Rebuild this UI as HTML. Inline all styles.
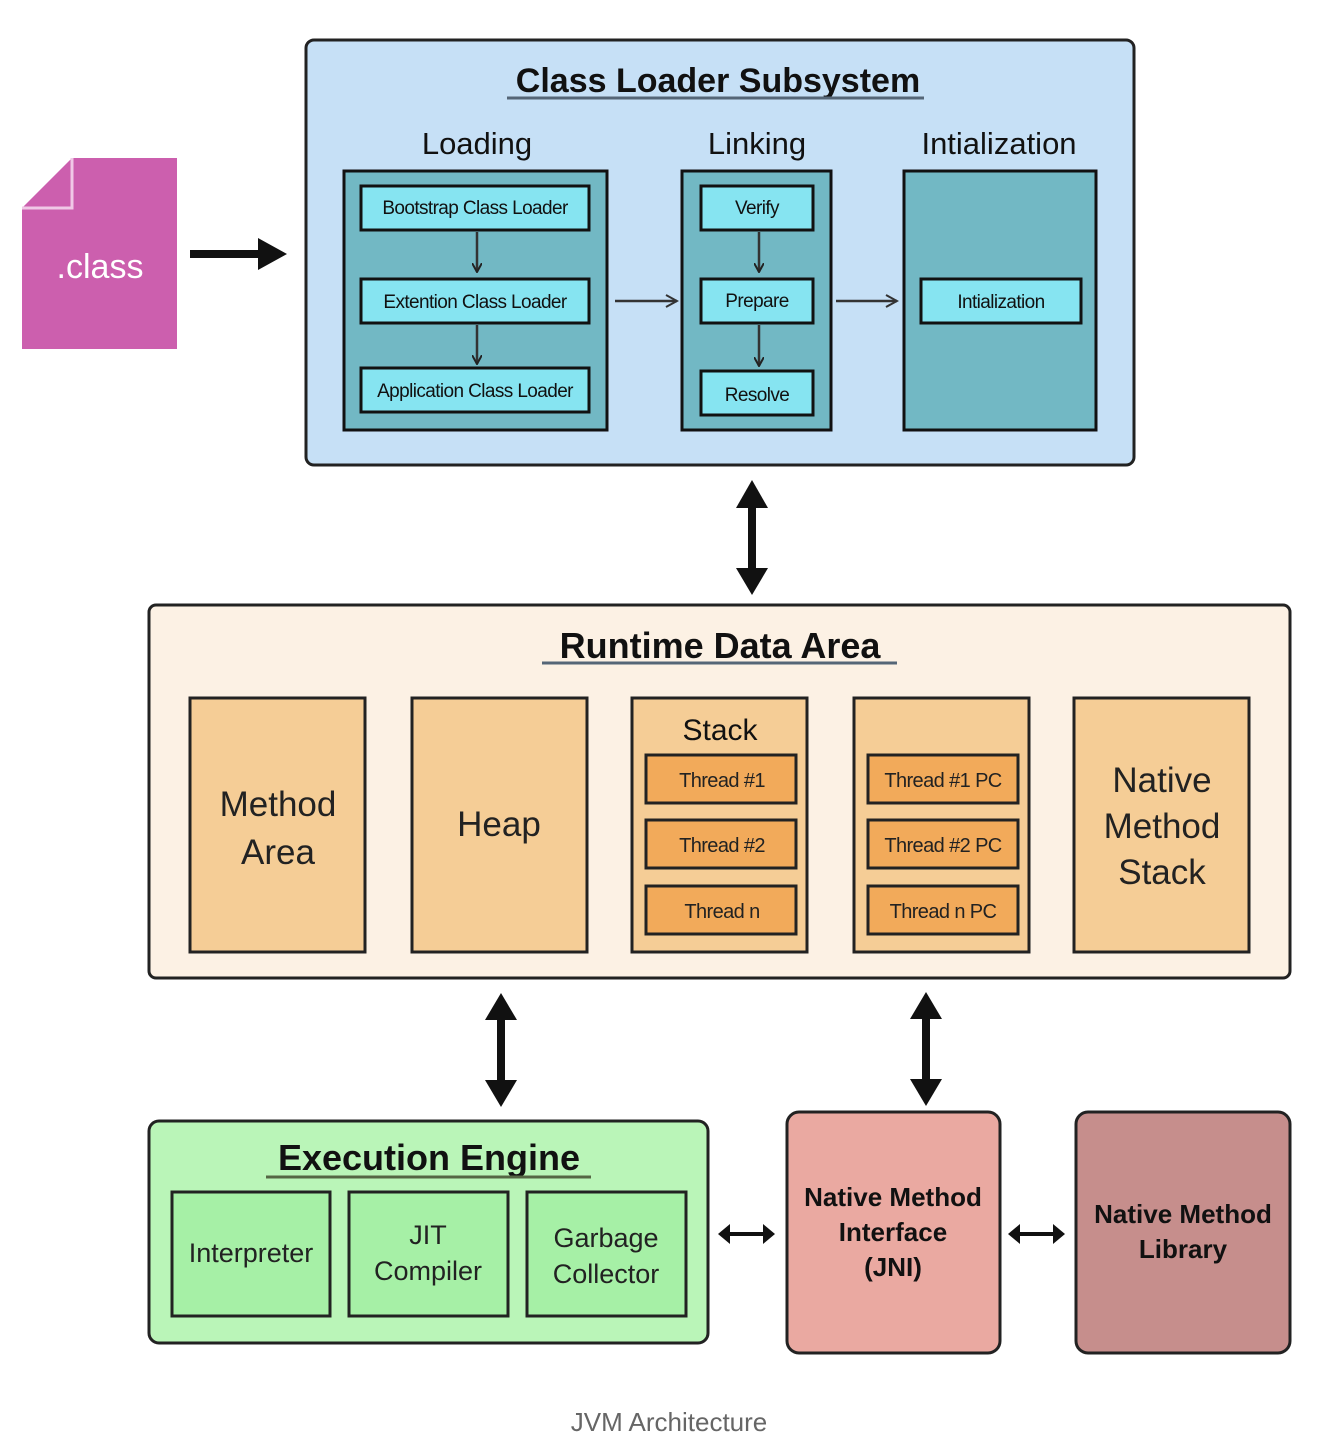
<!DOCTYPE html>
<html><head><style>body{margin:0;background:#fff}svg{display:block}</style></head>
<body>
<svg width="1338" height="1456" viewBox="0 0 1338 1456" xmlns="http://www.w3.org/2000/svg" font-family="Liberation Sans, sans-serif">
<defs>
<marker id="ah" markerWidth="10" markerHeight="10" refX="9" refY="5" orient="auto" markerUnits="userSpaceOnUse"><path d="M0,0 L9,5 L0,10" fill="none" stroke="#222" stroke-width="2"/></marker>
<marker id="sm" markerWidth="14" markerHeight="14" refX="12" refY="7" orient="auto" markerUnits="userSpaceOnUse"><path d="M1,1 L12,7 L1,13" fill="none" stroke="#333" stroke-width="2"/></marker>
</defs>
<!-- class file -->
<path d="M72,158 L177,158 L177,349 L22,349 L22,208 Z" fill="#cc5fae"/>
<path d="M22,208 L72,208 L72,158" fill="none" stroke="#f0c8e6" stroke-width="3"/>
<text x="100" y="278" font-size="34" fill="#fff" text-anchor="middle">.class</text>
<line x1="190" y1="254" x2="262" y2="254" stroke="#111" stroke-width="8"/>
<polygon points="258,238 287,254 258,270" fill="#111"/>

<!-- Class loader -->
<rect x="306" y="40" width="828" height="425" rx="8" fill="#c6e0f6" stroke="#222" stroke-width="3"/>
<text x="718" y="92" font-size="34" font-weight="bold" text-anchor="middle" fill="#111">Class Loader Subsystem</text>
<line x1="507" y1="98" x2="924" y2="98" stroke="#556677" stroke-width="3"/>
<text x="477" y="154" font-size="31" text-anchor="middle" fill="#111">Loading</text>
<text x="757" y="154" font-size="31" text-anchor="middle" fill="#111">Linking</text>
<text x="999" y="154" font-size="31" text-anchor="middle" fill="#111">Intialization</text>
<g stroke="#111" stroke-width="3">
<rect x="344" y="171" width="263" height="259" fill="#72b8c4"/>
<rect x="682" y="171" width="149" height="259" fill="#72b8c4"/>
<rect x="904" y="171" width="192" height="259" fill="#72b8c4"/>
<rect x="361" y="186" width="228" height="44" fill="#86e4f1"/>
<rect x="361" y="279" width="228" height="44" fill="#86e4f1"/>
<rect x="361" y="368" width="228" height="44" fill="#86e4f1"/>
<rect x="701" y="186" width="112" height="44" fill="#86e4f1"/>
<rect x="701" y="279" width="112" height="44" fill="#86e4f1"/>
<rect x="701" y="371" width="112" height="44" fill="#86e4f1"/>
<rect x="921" y="279" width="160" height="44" fill="#86e4f1"/>
</g>
<g font-size="19" text-anchor="middle" fill="#111" letter-spacing="-0.6">
<text x="475" y="214">Bootstrap Class Loader</text>
<text x="475" y="308">Extention Class Loader</text>
<text x="475" y="397">Application Class Loader</text>
<text x="757" y="214">Verify</text>
<text x="757" y="307">Prepare</text>
<text x="757" y="401">Resolve</text>
<text x="1001" y="308">Intialization</text>
</g>
<g stroke="#333" stroke-width="2.5">
<line x1="477" y1="232" x2="477" y2="272" marker-end="url(#ah)"/>
<line x1="477" y1="325" x2="477" y2="364" marker-end="url(#ah)"/>
<line x1="759" y1="232" x2="759" y2="272" marker-end="url(#ah)"/>
<line x1="759" y1="325" x2="759" y2="366" marker-end="url(#ah)"/>
<line x1="615" y1="301" x2="677" y2="301" marker-end="url(#sm)"/>
<line x1="836" y1="301" x2="897" y2="301" marker-end="url(#sm)"/>
</g>

<!-- double arrows -->
<g fill="#111">
<rect x="748" y="502" width="8" height="72"/><polygon points="736,508 752,480 768,508"/><polygon points="736,568 752,595 768,568"/>
<rect x="497" y="1015" width="8" height="70"/><polygon points="485,1020 501,993 517,1020"/><polygon points="485,1080 501,1107 517,1080"/>
<rect x="922" y="1014" width="8" height="70"/><polygon points="910,1019 926,992 942,1019"/><polygon points="910,1079 926,1106 942,1079"/>
<rect x="728" y="1232" width="36" height="4"/><polygon points="730,1224 718,1234 730,1244"/><polygon points="763,1224 775,1234 763,1244"/>
<rect x="1018" y="1232" width="36" height="4"/><polygon points="1020,1224 1008,1234 1020,1244"/><polygon points="1053,1224 1065,1234 1053,1244"/>
</g>

<!-- Runtime -->
<rect x="149" y="605" width="1141" height="373" rx="7" fill="#fcf1e4" stroke="#222" stroke-width="3"/>
<text x="720" y="658" font-size="36" font-weight="bold" text-anchor="middle" fill="#111">Runtime Data Area</text>
<line x1="542" y1="663" x2="897" y2="663" stroke="#556677" stroke-width="3"/>
<g stroke="#222" stroke-width="3" fill="#f5cd96">
<rect x="190" y="698" width="175" height="254"/>
<rect x="412" y="698" width="175" height="254"/>
<rect x="632" y="698" width="175" height="254"/>
<rect x="854" y="698" width="175" height="254"/>
<rect x="1074" y="698" width="175" height="254"/>
</g>
<g stroke="#222" stroke-width="3" fill="#f2aa5a">
<rect x="646" y="755" width="150" height="48"/><rect x="646" y="820" width="150" height="48"/><rect x="646" y="886" width="150" height="48"/>
<rect x="868" y="755" width="150" height="48"/><rect x="868" y="820" width="150" height="48"/><rect x="868" y="886" width="150" height="48"/>
</g>
<g font-size="35" text-anchor="middle" fill="#222">
<text x="278" y="816">Method</text><text x="278" y="864">Area</text>
<text x="499" y="836">Heap</text>
<text x="1162" y="792">Native</text><text x="1162" y="838">Method</text><text x="1162" y="884">Stack</text>
</g>
<text x="720" y="740" font-size="30" text-anchor="middle" fill="#111">Stack</text>
<g font-size="20" text-anchor="middle" fill="#222" letter-spacing="-0.6">
<text x="722" y="787">Thread #1</text><text x="722" y="852">Thread #2</text><text x="722" y="918">Thread n</text>
<text x="943" y="787">Thread #1 PC</text><text x="943" y="852">Thread #2 PC</text><text x="943" y="918">Thread n PC</text>
</g>

<!-- Execution engine -->
<rect x="149" y="1121" width="559" height="222" rx="10" fill="#baf5b8" stroke="#222" stroke-width="3"/>
<text x="429" y="1170" font-size="36" font-weight="bold" text-anchor="middle" fill="#111">Execution Engine</text>
<line x1="266" y1="1177" x2="591" y2="1177" stroke="#556644" stroke-width="3"/>
<g stroke="#222" stroke-width="3" fill="#a6f0a6">
<rect x="172" y="1192" width="158" height="124"/><rect x="349" y="1192" width="159" height="124"/><rect x="527" y="1192" width="159" height="124"/>
</g>
<g font-size="27" text-anchor="middle" fill="#222">
<text x="251" y="1262">Interpreter</text>
<text x="428" y="1244">JIT</text><text x="428" y="1280">Compiler</text>
<text x="606" y="1247">Garbage</text><text x="606" y="1283">Collector</text>
</g>
<rect x="787" y="1112" width="213" height="241" rx="12" fill="#eaa9a1" stroke="#222" stroke-width="3"/>
<rect x="1076" y="1112" width="214" height="241" rx="12" fill="#c68e8c" stroke="#222" stroke-width="3"/>
<g font-size="26" font-weight="bold" text-anchor="middle" fill="#111">
<text x="893" y="1206">Native Method</text><text x="893" y="1241">Interface</text><text x="893" y="1276">(JNI)</text>
<text x="1183" y="1223">Native Method</text><text x="1183" y="1258">Library</text>
</g>
<text x="669" y="1431" font-size="26" text-anchor="middle" fill="#666">JVM Architecture</text>
</svg>
</body></html>
